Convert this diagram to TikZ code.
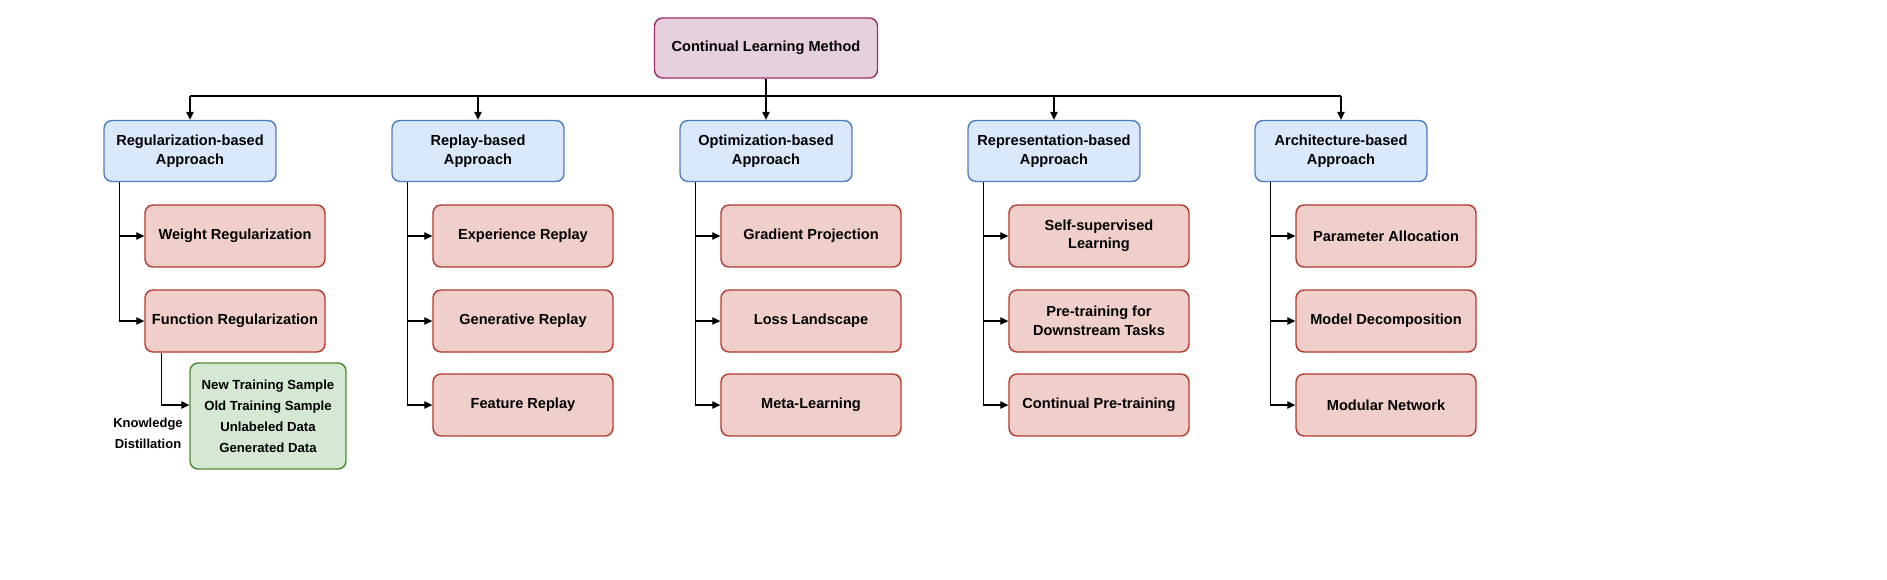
\documentclass[tikz,border=0pt]{standalone}
\usepackage{fontspec}
\setmainfont{Liberation Sans}
\usetikzlibrary{arrows.meta,positioning}
\definecolor{rootfill}{HTML}{E6D0DE}
\definecolor{rootdraw}{HTML}{A0306A}
\definecolor{appfill}{HTML}{DAE8FC}
\definecolor{appdraw}{HTML}{4F7EC0}
\definecolor{subfill}{HTML}{F0CFCA}
\definecolor{subdraw}{HTML}{B23A2E}
\definecolor{grnfill}{HTML}{D5E8D4}
\definecolor{grndraw}{HTML}{4E8A30}
\begin{document}
\begin{tikzpicture}[x=0.02cm,y=-0.02cm]
\tikzstyle{base} = [shape=rectangle, rounded corners=1.6mm, thick, align=center, font=\fontsize{8.3}{10.5}\selectfont\bfseries, inner sep=2pt];
\tikzstyle{rootbox} = [base, draw=rootdraw, fill=rootfill, minimum width=4.46cm, minimum height=1.2cm];
\tikzstyle{approach} = [base, draw=appdraw, fill=appfill, minimum width=3.44cm, minimum height=1.22cm];
\tikzstyle{method} = [base, draw=subdraw, fill=subfill, minimum width=3.6cm, minimum height=1.24cm];
\tikzstyle{data} = [base, draw=grndraw, fill=grnfill, minimum width=3.12cm, minimum height=2.12cm, font=\fontsize{7.5}{12}\selectfont\bfseries];
\tikzstyle{link} = [-{Triangle[length=1.6mm,width=1.5mm]}, line width=0.7pt];
\useasboundingbox (0,0) rectangle (1887,579);

\node[rootbox](Root) at (766,48) {Continual Learning Method};
\coordinate (Bus) at (766,96);

\node[approach](Reg) at (190,151) {Regularization-based\\Approach};
\node[approach](Rep) at (478,151) {Replay-based\\Approach};
\node[approach](Opt) at (766,151) {Optimization-based\\Approach};
\node[approach](Rpr) at (1054,151) {Representation-based\\Approach};
\node[approach](Arc) at (1341,151) {Architecture-based\\Approach};

\node[method](Weight) at (235,236) {Weight Regularization};
\node[method](Function) at (235,321) {Function Regularization};
\node[data](Samples) at (268,416) {New Training Sample\\Old Training Sample\\Unlabeled Data\\Generated Data};
\node[base, font=\fontsize{7.4}{12}\selectfont\bfseries](KD) at (148,433) {Knowledge\\Distillation};

\node[method](Exp) at (523,236) {Experience Replay};
\node[method](Gen) at (523,321) {Generative Replay};
\node[method](Feat) at (523,405) {Feature Replay};

\node[method](Grad) at (811,236) {Gradient Projection};
\node[method](Loss) at (811,321) {Loss Landscape};
\node[method](Meta) at (811,405) {Meta-Learning};

\node[method](Self) at (1099,236) {Self-supervised\\Learning};
\node[method](Pre) at (1099,321) {Pre-training for\\Downstream Tasks};
\node[method](Cont) at (1099,405) {Continual Pre-training};

\node[method](Param) at (1386,236) {Parameter Allocation};
\node[method](Decomp) at (1386,321) {Model Decomposition};
\node[method](Modular) at (1386,405) {Modular Network};

% tree from the root
\draw[line width=0.7pt] (Root.south) -- (Bus) (Reg.north |- Bus) -- (Arc.north |- Bus);
\foreach \a in {Reg,Rep,Opt,Rpr,Arc}
    \draw[link] (\a.north |- Bus) -- (\a.north);

% approach to methods
\draw[link] (Reg.south west) ++(16,0) |- (Weight.west);
\draw[link] (Reg.south west) ++(16,0) |- (Function.west);
\draw[link] (Rep.south west) ++(16,0) |- (Exp.west);
\draw[link] (Rep.south west) ++(16,0) |- (Gen.west);
\draw[link] (Rep.south west) ++(16,0) |- (Feat.west);
\draw[link] (Opt.south west) ++(16,0) |- (Grad.west);
\draw[link] (Opt.south west) ++(16,0) |- (Loss.west);
\draw[link] (Opt.south west) ++(16,0) |- (Meta.west);
\draw[link] (Rpr.south west) ++(16,0) |- (Self.west);
\draw[link] (Rpr.south west) ++(16,0) |- (Pre.west);
\draw[link] (Rpr.south west) ++(16,0) |- (Cont.west);
\draw[link] (Arc.south west) ++(16,0) |- (Param.west);
\draw[link] (Arc.south west) ++(16,0) |- (Decomp.west);
\draw[link] (Arc.south west) ++(16,0) |- (Modular.west);
\draw[link] (Function.south west) ++(17,0) |- ([yshift=0.22cm]Samples.west);
\end{tikzpicture}
\end{document}
